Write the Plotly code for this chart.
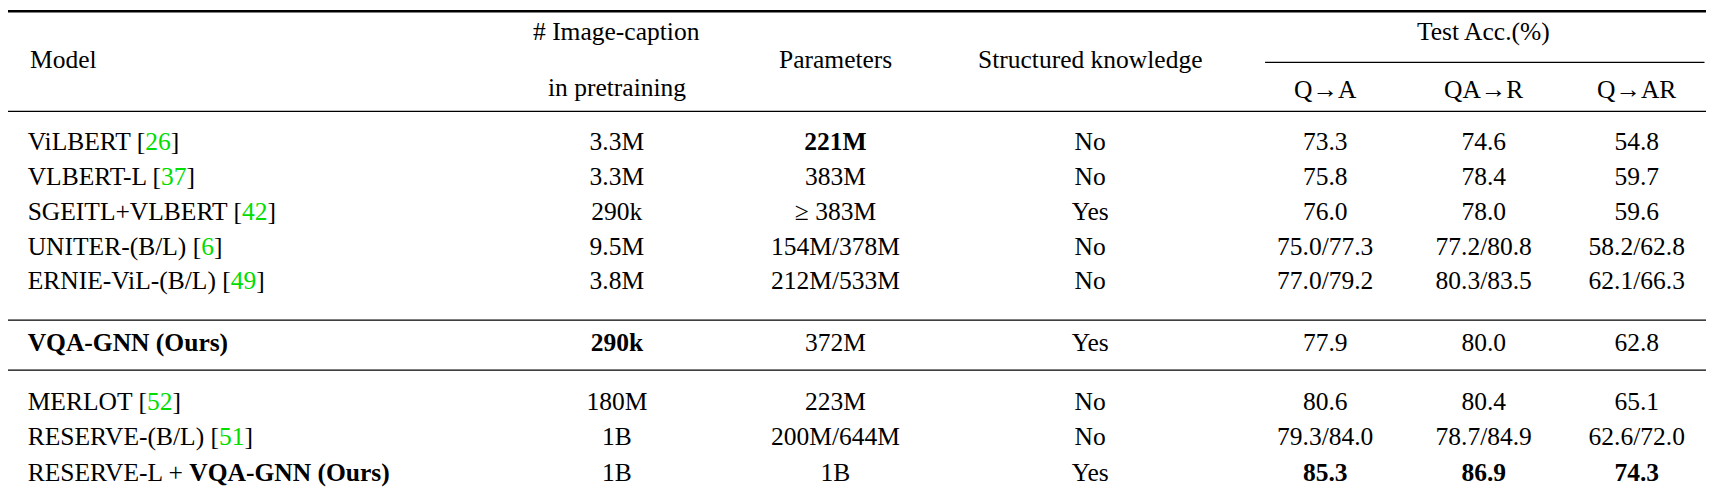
import plotly.graph_objects as go

G = "<span style='color:#00dd00'>{}</span>"
models = ["ViLBERT [" + G.format(26) + "]", "VLBERT-L [" + G.format(37) + "]",
          "SGEITL+VLBERT [" + G.format(42) + "]", "UNITER-(B/L) [" + G.format(6) + "]",
          "ERNIE-ViL-(B/L) [" + G.format(49) + "]", "<b>VQA-GNN (Ours)</b>",
          "MERLOT [" + G.format(52) + "]", "RESERVE-(B/L) [" + G.format(51) + "]",
          "RESERVE-L + <b>VQA-GNN (Ours)</b>"]
captions = ["3.3M", "3.3M", "290k", "9.5M", "3.8M", "<b>290k</b>", "180M", "1B", "1B"]
params = ["<b>221M</b>", "383M", "≥ 383M", "154M/378M", "212M/533M", "372M", "223M", "200M/644M", "1B"]
knowledge = ["No", "No", "Yes", "No", "No", "Yes", "No", "No", "Yes"]
q_a = ["73.3", "75.8", "76.0", "75.0/77.3", "77.0/79.2", "77.9", "80.6", "79.3/84.0", "<b>85.3</b>"]
qa_r = ["74.6", "78.4", "78.0", "77.2/80.8", "80.3/83.5", "80.0", "80.4", "78.7/84.9", "<b>86.9</b>"]
q_ar = ["54.8", "59.7", "59.6", "58.2/62.8", "62.1/66.3", "62.8", "65.1", "62.6/72.0", "<b>74.3</b>"]

row_y = [125, 157, 189, 221, 253, 310, 364, 396, 429]
col_x = [18, 557, 757, 990, 1205, 1350, 1490]
font = dict(family="Liberation Serif", size=25.5, color="black")

fig = go.Figure()
cols = [models, captions, params, knowledge, q_a, qa_r, q_ar]
for i, col in enumerate(cols):
    fig.add_trace(go.Scatter(x=[col_x[i]] * len(col), y=row_y, text=col, mode="text",
                             textposition="middle right" if i == 0 else "middle center",
                             textfont=font, hoverinfo="skip", showlegend=False, cliponaxis=False))

headers = [(18, 47, "Model", "left"), (557, 22, "# Image-caption", "center"),
           (557, 73, "in pretraining", "center"), (757, 47, "Parameters", "center"),
           (990, 47, "Structured knowledge", "center"), (1350, 22, "Test Acc.(%)", "center"),
           (1205, 75, "Q→A", "center"), (1350, 75, "QA→R", "center"), (1490, 75, "Q→AR", "center")]
for x, y, t, a in headers:
    fig.add_annotation(x=x, y=y, text=t, showarrow=False, xanchor=a, font=font)

for y, w, x0 in [(3, 2.5, 0), (95, 1.2, 0), (287, 1.2, 0), (333, 1.2, 0), (455, 2.5, 0), (50, 1.2, 1150)]:
    fig.add_shape(type="line", x0=x0, x1=1568 if x0 == 0 else 1552, y0=y, y1=y,
                  line=dict(color="black", width=w))

fig.update_xaxes(range=[0, 1568], visible=False)
fig.update_yaxes(range=[458, 0], visible=False)
fig.update_layout(width=1714, height=498, margin=dict(l=0, r=0, t=0, b=0),
                  plot_bgcolor="white", paper_bgcolor="white")
fig.write_html("out.html")
